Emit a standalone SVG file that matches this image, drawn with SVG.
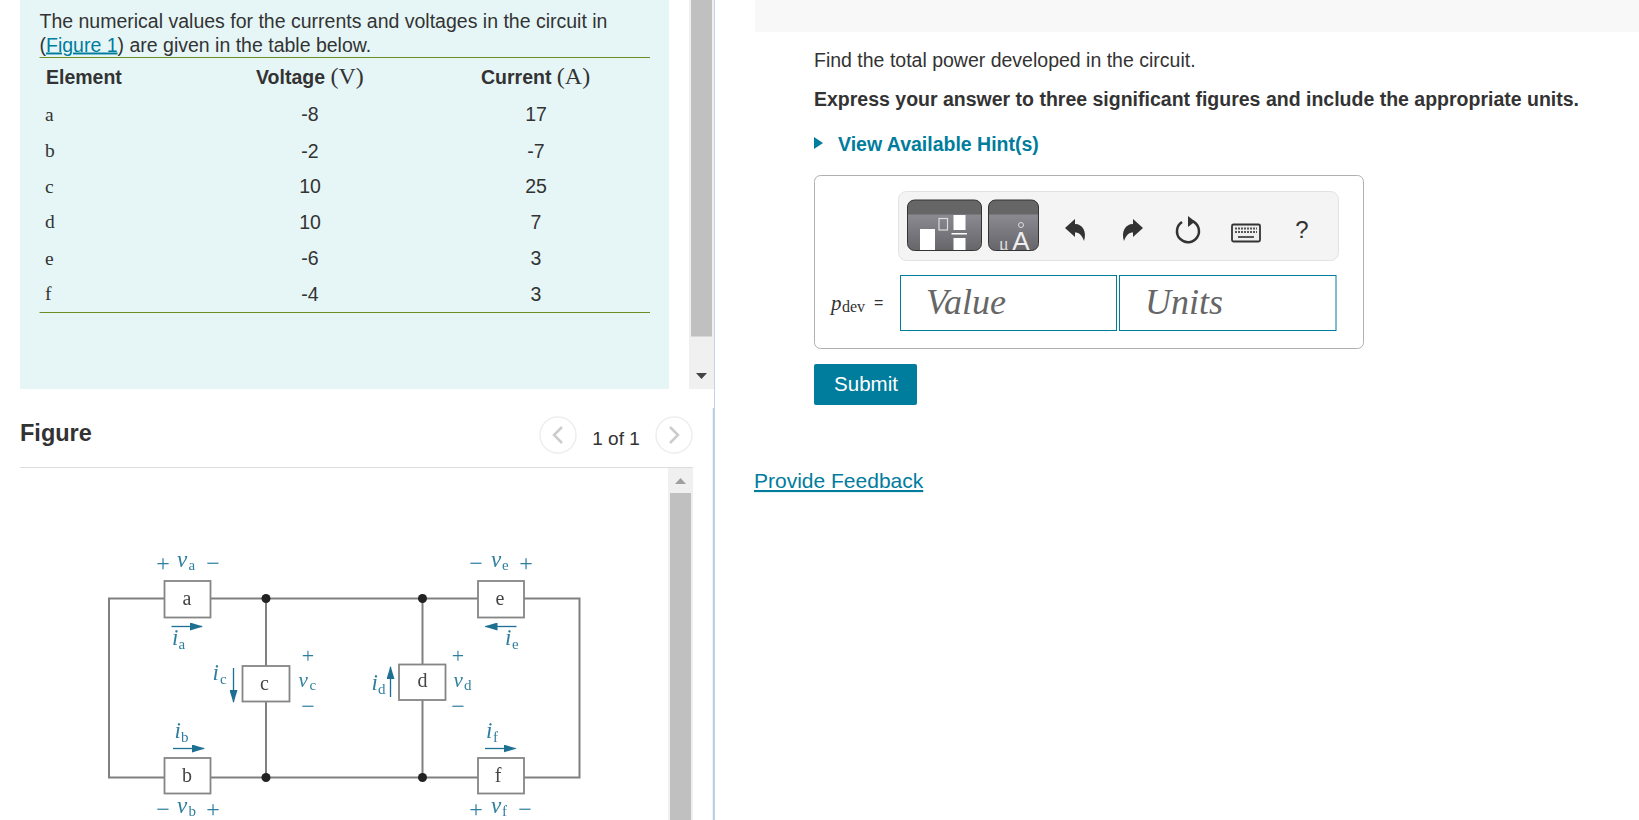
<svg xmlns="http://www.w3.org/2000/svg" width="1639" height="820" viewBox="0 0 1639 820">
<style>
text{font-family:"Liberation Sans",Arial,sans-serif;fill:#333}
.s{font-size:19.500px}
.b{font-weight:bold}
.m{text-anchor:middle}
.ser{font-family:"Liberation Serif","Times New Roman",serif}
.link{fill:#007c9d}
.rule{stroke:#6b8e23;stroke-width:1.2}
.w{fill:none;stroke:#808080;stroke-width:2}
.box{fill:#fff;stroke:#858585;stroke-width:1.8}
.dot{fill:#222}
.bl{font-family:"Liberation Serif","Times New Roman",serif;font-size:20px;fill:#444;text-anchor:middle}
.v{font-family:"Liberation Serif","Times New Roman",serif;font-style:italic;font-size:23px;fill:#2f7f9f}
.u{font-family:"Liberation Serif","Times New Roman",serif;font-size:15px;fill:#2f7f9f}
.p{font-family:"Liberation Serif","Times New Roman",serif;font-size:24px;fill:#2f7f9f;text-anchor:middle}
.ar{stroke:#1f6f92;stroke-width:1.3;fill:none;marker-end:url(#ah)}
.inp{fill:#fff;stroke:#007c9d;stroke-width:1}
.ph{font-family:"Liberation Serif","Times New Roman",serif;font-style:italic;font-size:36px;fill:#666}
.ic{fill:#333}
.wh{fill:#fff}
</style>
<defs>
<marker id="ah" markerWidth="13" markerHeight="8" refX="12" refY="4" orient="auto" markerUnits="userSpaceOnUse"><path d="M0 0L13 4L0 8Z" fill="#1f6f92"/></marker>
<linearGradient id="btn" x1="0" y1="0" x2="0" y2="1"><stop offset="0" stop-color="#9a99a1"/><stop offset="1" stop-color="#66656a"/></linearGradient>
<filter id="soft" x="-5%" y="-5%" width="110%" height="110%"><feGaussianBlur stdDeviation="0.5"/></filter>
<clipPath id="b1"><rect x="907.500" y="200" width="74" height="50.500" rx="7"/></clipPath>
<clipPath id="b2"><rect x="988.500" y="200" width="50" height="50.500" rx="7"/></clipPath>
</defs>
<rect width="1639" height="820" fill="#fff"/>

<g id="problem-panel">
<rect x="20" y="0" width="649" height="389" fill="#e6f6f7"/>
<text class="s" x="39.500" y="28">The numerical values for the currents and voltages in the circuit in</text>
<text class="s" x="39.500" y="51.500">(<tspan class="link" text-decoration="underline">Figure 1</tspan>) are given in the table below.</text>
<line class="rule" x1="39.500" y1="57.500" x2="650" y2="57.500"/>
<text class="s b" x="46" y="84">Element</text>
<text class="s b" x="256" y="84">Voltage <tspan class="ser" font-weight="normal" font-size="24">(V)</tspan></text>
<text class="s b" x="481" y="84">Current <tspan class="ser" font-weight="normal" font-size="24">(A)</tspan></text>
<g>
<text class="ser s" x="45" y="121">a</text><text class="s m" x="310" y="121">-8</text><text class="s m" x="536" y="121">17</text>
<text class="ser s" x="45" y="157">b</text><text class="s m" x="310" y="158">-2</text><text class="s m" x="536" y="158">-7</text>
<text class="ser s" x="45" y="193">c</text><text class="s m" x="310" y="193">10</text><text class="s m" x="536" y="193">25</text>
<text class="ser s" x="45" y="228">d</text><text class="s m" x="310" y="229">10</text><text class="s m" x="536" y="229">7</text>
<text class="ser s" x="45" y="265">e</text><text class="s m" x="310" y="265">-6</text><text class="s m" x="536" y="265">3</text>
<text class="ser s" x="45" y="300">f</text><text class="s m" x="310" y="301">-4</text><text class="s m" x="536" y="301">3</text>
</g>
<line class="rule" x1="39.500" y1="312.500" x2="650" y2="312.500"/>
</g>

<g id="scrollbars">
<rect x="689" y="0" width="25" height="389" fill="#f0f0f0"/>
<rect x="691" y="0" width="21" height="336.500" fill="#c0c0c0"/>
<path d="M696 373H707L701.500 379Z" fill="#444"/>
<rect x="668" y="467" width="25" height="353" fill="#f0f0f0"/>
<rect x="670" y="493" width="21" height="327" fill="#c0c0c0"/>
<path d="M675 484L680.500 478L686 484Z" fill="#a0a0a0"/>
<line x1="714.500" y1="0" x2="714.500" y2="820" stroke="#c3d4e8" stroke-width="1"/>
<line x1="713.500" y1="408" x2="713.500" y2="820" stroke="#b7cde0" stroke-width="1.500"/>
</g>

<g id="figure-header">
<text class="b" x="20" y="441" font-size="23.500">Figure</text>
<line x1="20" y1="467.500" x2="693" y2="467.500" stroke="#ddd" stroke-width="1"/>
<circle cx="558" cy="435" r="18" fill="#fff" stroke="#eee" stroke-width="1.500"/>
<path d="M562 427L554 435L562 443" fill="none" stroke="#ccc" stroke-width="2.500"/>
<text x="616" y="445" font-size="19" class="m">1 of 1</text>
<circle cx="674" cy="435" r="18" fill="#fff" stroke="#eee" stroke-width="1.500"/>
<path d="M670 427L678 435L670 443" fill="none" stroke="#ccc" stroke-width="2.500"/>
</g>

<g id="circuit" filter="url(#soft)">
<g id="connectors">
<path class="w" d="M164 598.500H109V777.500H164"/>
<path class="w" d="M211 598.500H478"/>
<path class="w" d="M211 777.500H478"/>
<path class="w" d="M524 598.500H579.500V777.500H524"/>
<path class="w" d="M266 598.500V666M266 702V777.500"/>
<path class="w" d="M422.500 598.500V664.500M422.500 700V777.500"/>
<line class="ar" x1="171.500" y1="626.500" x2="202" y2="626.500"/>
<line class="ar" x1="173" y1="748.500" x2="204" y2="748.500"/>
<line class="ar" x1="233.500" y1="668" x2="233.500" y2="702"/>
<line class="ar" x1="390.500" y1="697" x2="390.500" y2="667"/>
<line class="ar" x1="516.500" y1="626.500" x2="485.500" y2="626.500"/>
<line class="ar" x1="485" y1="748.500" x2="515.500" y2="748.500"/>
<circle class="dot" cx="266" cy="598.500" r="4.500"/>
<circle class="dot" cx="422.500" cy="598.500" r="4.500"/>
<circle class="dot" cx="266" cy="777.500" r="4.500"/>
<circle class="dot" cx="422.500" cy="777.500" r="4.500"/>
</g>
<g id="node-a"><rect class="box" x="164.500" y="581" width="46" height="36.500"/><text class="bl" x="187" y="605">a</text></g>
<g id="node-b"><rect class="box" x="164.500" y="758" width="46" height="35.500"/><text class="bl" x="187" y="782">b</text></g>
<g id="node-c"><rect class="box" x="242.500" y="666" width="47" height="35.500"/><text class="bl" x="264.500" y="690">c</text></g>
<g id="node-d"><rect class="box" x="399" y="664.500" width="46.500" height="35.500"/><text class="bl" x="422.500" y="687">d</text></g>
<g id="node-e"><rect class="box" x="478" y="581" width="46" height="36.500"/><text class="bl" x="500" y="605">e</text></g>
<g id="node-f"><rect class="box" x="478" y="758" width="46" height="35.500"/><text class="bl" x="498" y="782">f</text></g>
<g id="labels">
<text class="p" x="163" y="571">+</text><text class="v" x="177" y="566.500">v</text><text class="u" x="188.500" y="570">a</text><text class="p" x="213" y="571">−</text>
<text class="v" x="172" y="645">i</text><text class="u" x="178.500" y="649">a</text>
<text class="v" x="174.500" y="738">i</text><text class="u" x="181" y="741.500">b</text>
<text class="v" x="212.500" y="680">i</text><text class="u" x="220" y="683.500">c</text>
<text class="v" x="371.500" y="690">i</text><text class="u" x="378" y="694">d</text>
<text class="p" x="308" y="663" font-size="22" style="font-size:22px">+</text><text class="v" x="298.500" y="687" style="font-size:21px">v</text><text class="u" x="309.500" y="690">c</text><text class="p" x="308" y="714">−</text>
<text class="p" x="458" y="663" style="font-size:22px">+</text><text class="v" x="453.500" y="687" style="font-size:21px">v</text><text class="u" x="464" y="690">d</text><text class="p" x="458" y="714">−</text>
<text class="p" x="476" y="571">−</text><text class="v" x="491" y="566.500">v</text><text class="u" x="502" y="570">e</text><text class="p" x="526" y="571">+</text>
<text class="v" x="505" y="645">i</text><text class="u" x="512" y="649">e</text>
<text class="v" x="486" y="738">i</text><text class="u" x="493" y="741.500">f</text>
<text class="p" x="163" y="817">−</text><text class="v" x="177" y="812.500">v</text><text class="u" x="188.500" y="816">b</text><text class="p" x="213" y="817">+</text>
<text class="p" x="476" y="817">+</text><text class="v" x="491" y="812.500">v</text><text class="u" x="502" y="816">f</text><text class="p" x="525" y="817">−</text>
</g>
</g>

<g id="answer-header">
<rect x="755" y="0" width="884" height="32" fill="#f8f8f8"/>
<text class="s" x="814" y="67">Find the total power developed in the circuit.</text>
<text class="s b" x="814" y="106">Express your answer to three significant figures and include the appropriate units.</text>
<path d="M814 137L823 143L814 149Z" fill="#007c9d"/>
<text class="s b link" x="838" y="151">View Available Hint(s)</text>
</g>

<g id="answer-box">
<rect x="814.500" y="175.500" width="549" height="173" rx="6" fill="#fff" stroke="#b0b0b0" stroke-width="1"/>
<rect x="898.500" y="191.500" width="440" height="69" rx="8" fill="#f4f4f4" stroke="#e2e2e2" stroke-width="1"/>
<g clip-path="url(#b1)">
<rect x="907.500" y="200" width="74" height="50.500" fill="url(#btn)"/>
<rect x="907.500" y="200" width="74" height="14.500" fill="#666"/>
<rect class="wh" x="920" y="229" width="15" height="22"/>
<rect x="939" y="218.500" width="8.500" height="11.500" fill="none" stroke="#ddd" stroke-width="1.200"/>
<rect class="wh" x="953.500" y="215" width="12" height="15"/>
<rect class="wh" x="951.500" y="233" width="15.500" height="1.500"/>
<rect class="wh" x="953.500" y="238" width="12" height="13"/>
</g>
<rect x="907.500" y="200" width="74" height="50.500" rx="7" fill="none" stroke="#333" stroke-width="1"/>
<g clip-path="url(#b2)">
<rect x="988.500" y="200" width="50" height="50.500" fill="url(#btn)"/>
<rect x="988.500" y="200" width="50" height="14.500" fill="#666"/>
<text x="999" y="250" font-size="18" style="font-family:'Liberation Serif',serif;fill:#ddd">μ</text>
<text x="1021" y="250" font-size="26" class="m" style="font-family:'Liberation Sans',sans-serif;fill:#eee">A</text>
<circle cx="1021" cy="225" r="2.500" fill="none" stroke="#ddd" stroke-width="1"/>
</g>
<rect x="988.500" y="200" width="50" height="50.500" rx="7" fill="none" stroke="#333" stroke-width="1"/>
<path id="undo" class="ic" d="M1065 228L1075 219V224C1083 224 1087 232 1084 241C1082 235 1079 232.500 1075 232.500V237Z"/>
<path id="redo" class="ic" d="M1143 228L1133 219V224C1125 224 1121 232 1124 241C1126 235 1129 232.500 1133 232.500V237Z"/>
<g id="refresh"><path d="M1192 221A11 11 0 1 1 1182 222" fill="none" stroke="#333" stroke-width="2.500"/><path class="ic" d="M1188 216L1195 221.500L1188 227Z"/></g>
<g id="keyboard"><rect x="1232" y="224.500" width="28" height="17" rx="1.500" fill="#eee" stroke="#333" stroke-width="1.800"/><path d="M1235 228.500H1257M1235 232H1257" stroke="#555" stroke-width="2" stroke-dasharray="2 1"/><path d="M1238 237H1254" stroke="#555" stroke-width="2"/></g>
<text x="1302" y="238" font-size="24" class="m">?</text>
<g id="pdev"><text class="ser" x="831" y="310" font-size="21" font-style="italic">p</text><text class="ser" x="842" y="312" font-size="16">dev</text><text x="874" y="308" font-size="16">=</text></g>
<rect class="inp" x="900.500" y="275.500" width="216" height="55"/>
<text class="ph" x="926" y="314">Value</text>
<rect class="inp" x="1119.500" y="275.500" width="216.500" height="55"/>
<text class="ph" x="1145" y="314">Units</text>
</g>

<g id="submit">
<rect x="814" y="364" width="103" height="41" rx="2" fill="#007c9d"/>
<text x="866" y="391" font-size="20.500" class="m" style="fill:#fff">Submit</text>
</g>
<text id="feedback" class="link" x="754" y="488" font-size="21" text-decoration="underline">Provide Feedback</text>
</svg>
